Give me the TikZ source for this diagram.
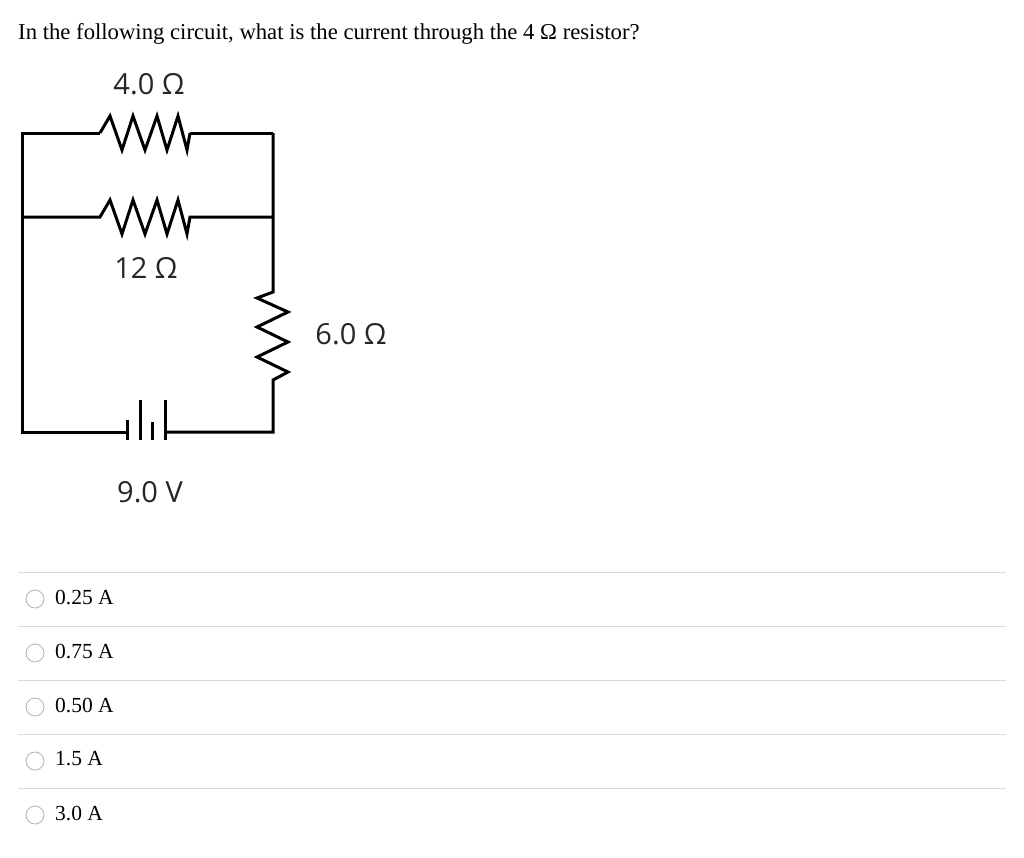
\documentclass[tikz,border=0pt]{standalone}
\usepackage{fontspec}
\setmainfont{Liberation Serif}
\newfontfamily\lblfont{Open Sans}
\begin{document}
\begin{tikzpicture}[x=1pt,y=-1pt,
  wire/.style={line width=3pt,line join=miter},
  lbl/.style={font=\lblfont\fontsize{29}{32}\selectfont,text=black!85,inner sep=0},
  opt/.style={font=\fontsize{21.5}{24}\selectfont,anchor=west,inner sep=0},
  radio/.style={draw=black!30,line width=0.8pt,fill=white},
  sep/.style={draw=black!15,line width=1pt}]
\useasboundingbox (0,0) rectangle (1024,857);
\node[anchor=west,inner sep=0,font=\fontsize{22.7}{26}\selectfont] (q) at (18,34) {In the following circuit, what is the current through the 4 Ω resistor?};
% circuit
\coordinate (tl) at (22,133); \coordinate (tr) at (273,133);
\coordinate (ml) at (22,217); \coordinate (mr) at (273,217);
\coordinate (bl) at (22,432); \coordinate (br) at (273,432);
\draw[wire] (100,133) -- (tl) -- (bl) -- (127,432);
\draw[wire] (tr) -- (190,133);
\draw[wire] (100,133) -- (110,116) -- (122,150) -- (133,116) -- (145,150) -- (157,116) -- (167,150) -- (178,116) -- (187,150) -- (190,133);
\draw[wire] (ml) -- (100,217) -- (110,200) -- (122,234) -- (133,200) -- (145,234) -- (157,200) -- (167,234) -- (178,200) -- (187,234) -- (190,217) -- (mr);
\draw[wire] (tr) -- (273,292) -- (257,298) -- (288,312) -- (257,327) -- (288,342) -- (257,357) -- (288,372) -- (273,380) -- (br) -- (165,432);
% battery
\draw[line width=3pt] (127,420) -- (127,440);
\draw[line width=3pt] (140,400) -- (140,440);
\draw[line width=3pt] (152,422) -- (152,440);
\draw[line width=3pt] (165,400) -- (165,440);
\node[lbl] (r4) at (149,84) {4.0 Ω};
\node[lbl] (r12) at (146,268) {12 Ω};
\node[lbl] (r6) at (351,334) {6.0 Ω};
\node[lbl] (v) at (150,492) {9.0 V};
% options
\foreach \y in {572,626,680,734,788} \draw[sep] (18,\y) -- (1006,\y);
\foreach \y/\t/\n in {599/0.25 A/a,653/0.75 A/b,707/0.50 A/c,761/1.5 A/d,815/3.0 A/e}{
  \draw[radio] (35,\y) circle (9);
  \node[opt] (o\n) at (55,\y-2) {\t};
}
\end{tikzpicture}
\end{document}
